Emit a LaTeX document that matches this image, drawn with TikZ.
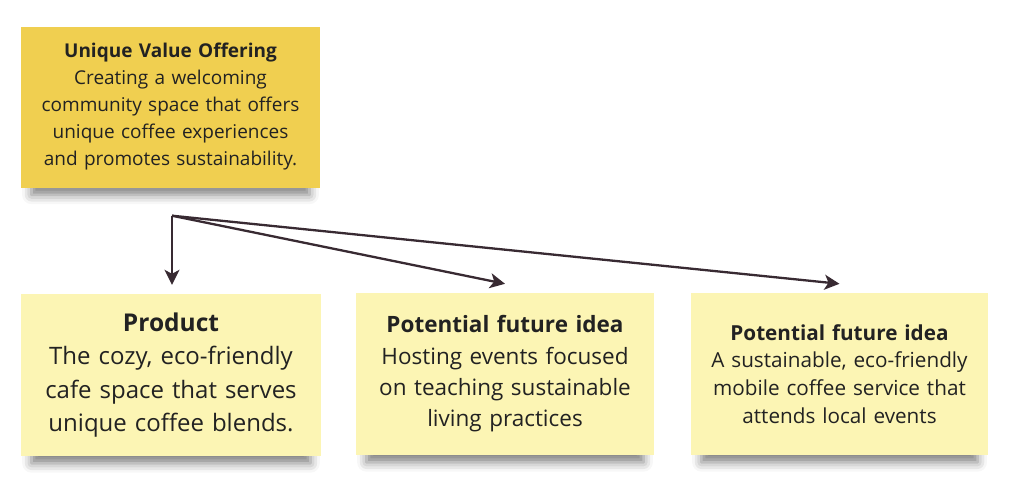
\documentclass[tikz,border=0pt]{standalone}
\usepackage{fontspec}
\setmainfont{Open Sans}
\usetikzlibrary{arrows.meta,shadows.blur}

\definecolor{offergold}{RGB}{240,207,80}
\definecolor{notecream}{RGB}{252,245,180}
\definecolor{inkdark}{RGB}{34,34,34}
\definecolor{arrowink}{RGB}{56,42,50}

\begin{document}
\begin{tikzpicture}[
  x=1pt, y=-1pt,
  postit/.style={rectangle, inner xsep=8pt, inner ysep=0pt, align=center,
    minimum height=162pt, text=inkdark,
    blur shadow={shadow xshift=0pt, shadow yshift=-14pt, shadow scale=0.93,
      shadow blur radius=10pt, shadow opacity=50}},
  link/.style={-{Stealth[length=15pt, width=15pt, inset=4pt]}, arrowink,
    line width=2.3pt}
]
  \useasboundingbox (0,0) rectangle (1024,498);

  % value offering
  \node[postit, fill=offergold, text width=283pt, minimum height=161pt,
    font=\fontsize{19}{27}\selectfont] (offer) at (170.5,107)
    {\textbf{Unique Value Offering}\\Creating a welcoming\\community space that offers\\unique coffee experiences\\and promotes sustainability.};

  % product and ideas
  \node[postit, fill=notecream, text width=284pt,
    font=\fontsize{24}{33.3}\selectfont] (product) at (171,375)
    {{\fontsize{24.5}{33.3}\selectfont\textbf{Product}}\\The cozy, eco-friendly\\cafe space that serves\\unique coffee blends.};
  \node[postit, fill=notecream, text width=282pt,
    font=\fontsize{22.5}{31.3}\selectfont] (ideaevents) at (505,374)
    {\textbf{Potential future idea}\\Hosting events focused\\on teaching sustainable\\living practices};
  \node[postit, fill=notecream, text width=281pt,
    font=\fontsize{20.7}{27.7}\selectfont] (ideamobile) at (839.5,374)
    {\textbf{Potential future idea}\\A sustainable, eco-friendly\\mobile coffee service that\\attends local events};

  % arrows
  \coordinate (fork) at ([xshift=1.5pt, yshift=-28pt]offer.south);
  \draw[link] (fork) -- ([yshift=9pt]product.north -| fork);
  \draw[link] (fork) -- ([yshift=9pt]ideaevents.north);
  \draw[link] (fork) -- ([yshift=9pt]ideamobile.north);

\end{tikzpicture}
\end{document}
